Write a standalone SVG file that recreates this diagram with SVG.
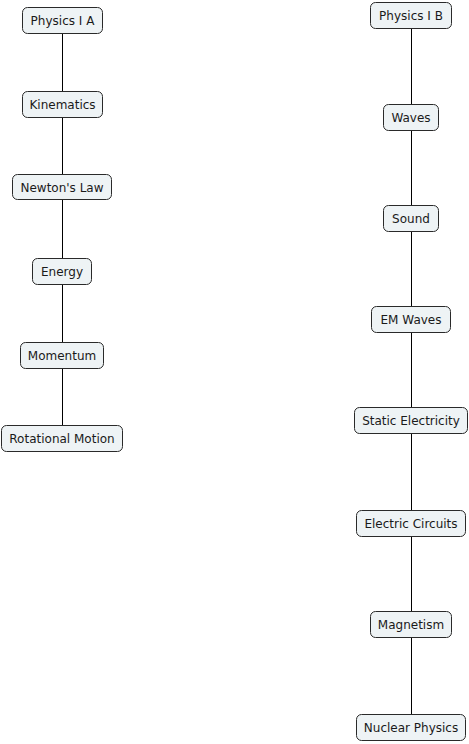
<svg xmlns="http://www.w3.org/2000/svg" width="469" height="744" viewBox="0 0 469 744">
<style>
rect.n{fill:#eef3f5;stroke:#2a2a2a;stroke-width:1;}
text{font-family:"DejaVu Sans",Verdana,sans-serif;font-size:12px;fill:#1a1a1a;text-anchor:middle;dominant-baseline:central;}
.c line{stroke:#000;stroke-width:1;}
</style>
<rect width="469" height="744" fill="#fff"/>
<g class="c" id="connectors">
<line x1="62.5" y1="33" x2="62.5" y2="91"/>
<line x1="62.5" y1="117" x2="62.5" y2="174"/>
<line x1="62.5" y1="199" x2="62.5" y2="258"/>
<line x1="62.5" y1="284" x2="62.5" y2="342"/>
<line x1="62.5" y1="368" x2="62.5" y2="425"/>
<line x1="411.5" y1="28" x2="411.5" y2="104"/>
<line x1="411.5" y1="130" x2="411.5" y2="205"/>
<line x1="411.5" y1="231" x2="411.5" y2="306"/>
<line x1="411.5" y1="332" x2="411.5" y2="407"/>
<line x1="411.5" y1="433" x2="411.5" y2="510"/>
<line x1="411.5" y1="536" x2="411.5" y2="611"/>
<line x1="411.5" y1="637" x2="411.5" y2="714"/>
</g>
<g id="physics1a"><rect class="n" x="22.5" y="7.5" width="80" height="26" rx="5"/><text x="62.5" y="20.5">Physics I A</text></g>
<g id="kinematics"><rect class="n" x="22.5" y="91.5" width="80" height="26" rx="5"/><text x="62.5" y="104.5">Kinematics</text></g>
<g id="newtons"><rect class="n" x="12.5" y="174.5" width="99" height="25" rx="5"/><text x="62" y="187.5">Newton's Law</text></g>
<g id="energy"><rect class="n" x="32.5" y="258.5" width="59" height="26" rx="5"/><text x="62" y="271.5">Energy</text></g>
<g id="momentum"><rect class="n" x="20.5" y="342.5" width="83" height="26" rx="5"/><text x="62" y="355.5">Momentum</text></g>
<g id="rotational"><rect class="n" x="1.5" y="425.5" width="121" height="26" rx="5"/><text x="62" y="438.5">Rotational Motion</text></g>
<g id="physics1b"><rect class="n" x="370.5" y="2.5" width="81" height="26" rx="5"/><text x="411" y="15.5">Physics I B</text></g>
<g id="waves"><rect class="n" x="383.5" y="104.5" width="55" height="26" rx="5"/><text x="411" y="117.5">Waves</text></g>
<g id="sound"><rect class="n" x="383.5" y="205.5" width="55" height="26" rx="5"/><text x="411" y="218.5">Sound</text></g>
<g id="emwaves"><rect class="n" x="371.5" y="306.5" width="79" height="26" rx="5"/><text x="411" y="319.5">EM Waves</text></g>
<g id="static"><rect class="n" x="354.5" y="407.5" width="113" height="26" rx="5"/><text x="411" y="420.5">Static Electricity</text></g>
<g id="circuits"><rect class="n" x="356.5" y="510.5" width="109" height="26" rx="5"/><text x="411" y="523.5">Electric Circuits</text></g>
<g id="magnetism"><rect class="n" x="370.5" y="611.5" width="81" height="26" rx="5"/><text x="411" y="624.5">Magnetism</text></g>
<g id="nuclear"><rect class="n" x="356.5" y="714.5" width="109" height="26" rx="5"/><text x="411" y="727.5">Nuclear Physics</text></g>
</svg>
